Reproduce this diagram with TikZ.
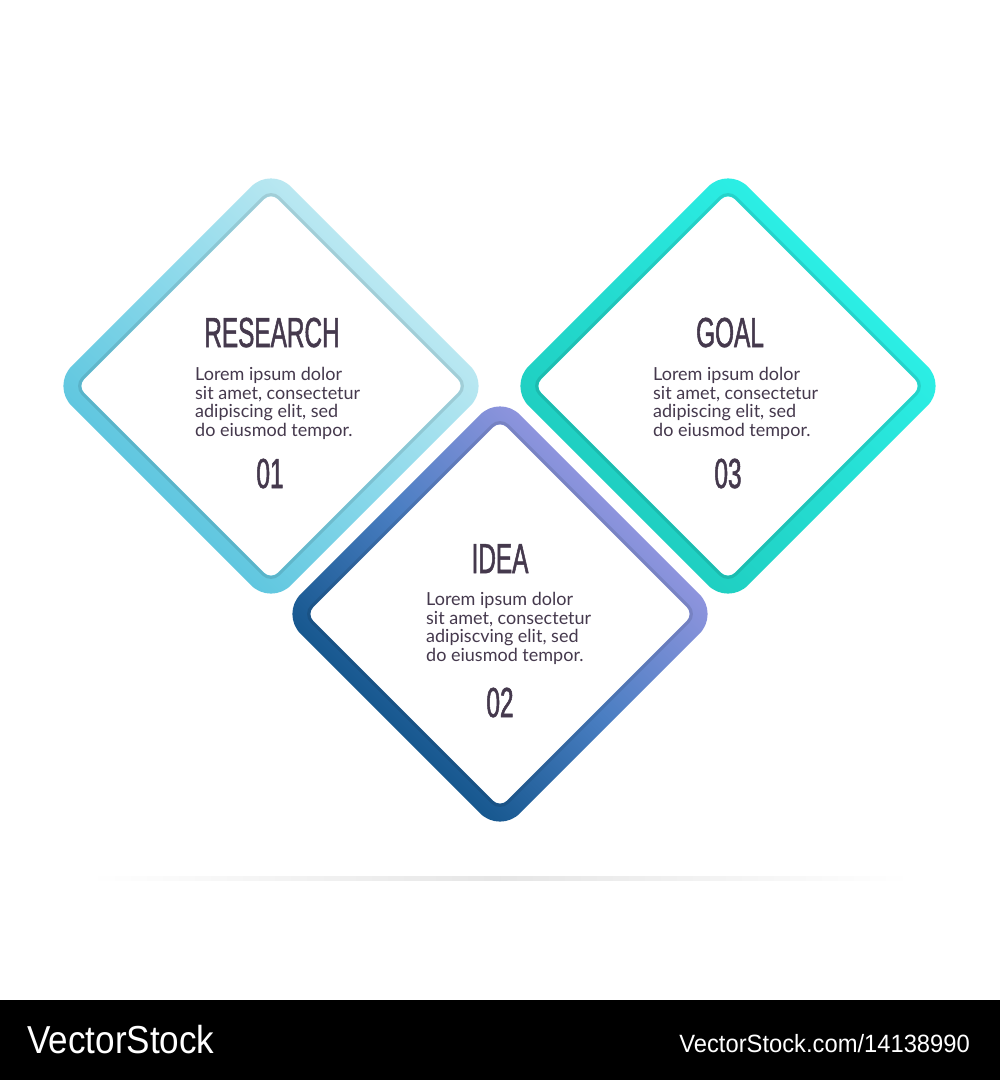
\documentclass[tikz,border=0pt]{standalone}
\usepackage{fontspec}
\setmainfont{Lato}
\newfontfamily\titlefont[FakeStretch=0.58, FakeBold=1.2]{Liberation Sans}
\newfontfamily\wmfont[FakeStretch=0.9]{Liberation Sans}
\newfontfamily\wmfontb[FakeStretch=0.95]{Liberation Sans}
\definecolor{txt}{HTML}{45394D}
\definecolor{rA}{HTML}{CDEEF4}
\definecolor{rB}{HTML}{8AD8EA}
\definecolor{rC}{HTML}{4FC0DB}
\definecolor{iA}{HTML}{A99DE8}
\definecolor{iB}{HTML}{4A7EC2}
\definecolor{iC}{HTML}{02487A}
\definecolor{gA}{HTML}{2EF5EC}
\definecolor{gB}{HTML}{25DDD2}
\definecolor{gC}{HTML}{1DCABB}
\newcommand{\diamondring}[5]{%
  \shade[even odd rule, top color=#3, bottom color=#5, middle color=#4, shading angle=-45]
    [rounded corners=28]
    ({#1+109.6},{#2-109.6}) -- ({#1+219.2},#2) -- (#1,{#2+219.2}) -- ({#1-219.2},#2) -- (#1,{#2-219.2}) -- cycle
    [rounded corners=10]
    ({#1+96.85},{#2-96.85}) -- ({#1+193.7},#2) -- (#1,{#2+193.7}) -- ({#1-193.7},#2) -- (#1,{#2-193.7}) -- cycle;
  \draw[black, opacity=0.10, line width=3, rounded corners=11]
    ({#1+98},{#2-98}) -- ({#1+196},#2) -- (#1,{#2+196}) -- ({#1-196},#2) -- (#1,{#2-196}) -- cycle;
}
\tikzset{
  title/.style={font=\titlefont\fontsize{42}{42}\selectfont, text=txt, inner sep=0, anchor=base},
  body/.style={font=\fontsize{18}{18.5}\selectfont, text=txt, inner sep=0, align=left, anchor=base west},
}
\begin{document}
\begin{tikzpicture}[x=1pt, y=-1pt]
\useasboundingbox (0,0) rectangle (1000,1080);
\fill[white] (0,0) rectangle (1000,1000);
% floor shadow
\shade[left color=white, right color=white, middle color=black!10] (90,876) rectangle (910,880);
% rings
\diamondring{271}{386}{rA}{rB}{rC}
\diamondring{728}{386}{gA}{gB}{gC}
\diamondring{500}{614}{iA}{iB}{iC}
% texts
\node[title] (t1) at (272,347) {RESEARCH};
\node[body] (b1) at (195,436) {Lorem ipsum dolor\\sit amet, consectetur\\adipiscing elit, sed\\do eiusmod tempor.};
\node[title] (n1) at (270,488) {01};
\node[title] (t2) at (500,573) {IDEA};
\node[body] (b2) at (426,661) {Lorem ipsum dolor\\sit amet, consectetur\\adipiscving elit, sed\\do eiusmod tempor.};
\node[title] (n2) at (500,717) {02};
\node[title] (t3) at (730,347) {GOAL};
\node[body] (b3) at (653,436) {Lorem ipsum dolor\\sit amet, consectetur\\adipiscing elit, sed\\do eiusmod tempor.};
\node[title] (n3) at (728,488) {03};
% watermark band
\fill[black] (0,1000) rectangle (1000,1080);
\node[font=\wmfont\fontsize{39}{39}\selectfont, text=white, inner sep=0, anchor=base west] (wm1) at (27,1053) {VectorStock};
\node[font=\wmfontb\fontsize{25}{25}\selectfont, text=white, inner sep=0, anchor=base east] (wm2) at (970,1052) {VectorStock.com/14138990};
\end{tikzpicture}
\end{document}
